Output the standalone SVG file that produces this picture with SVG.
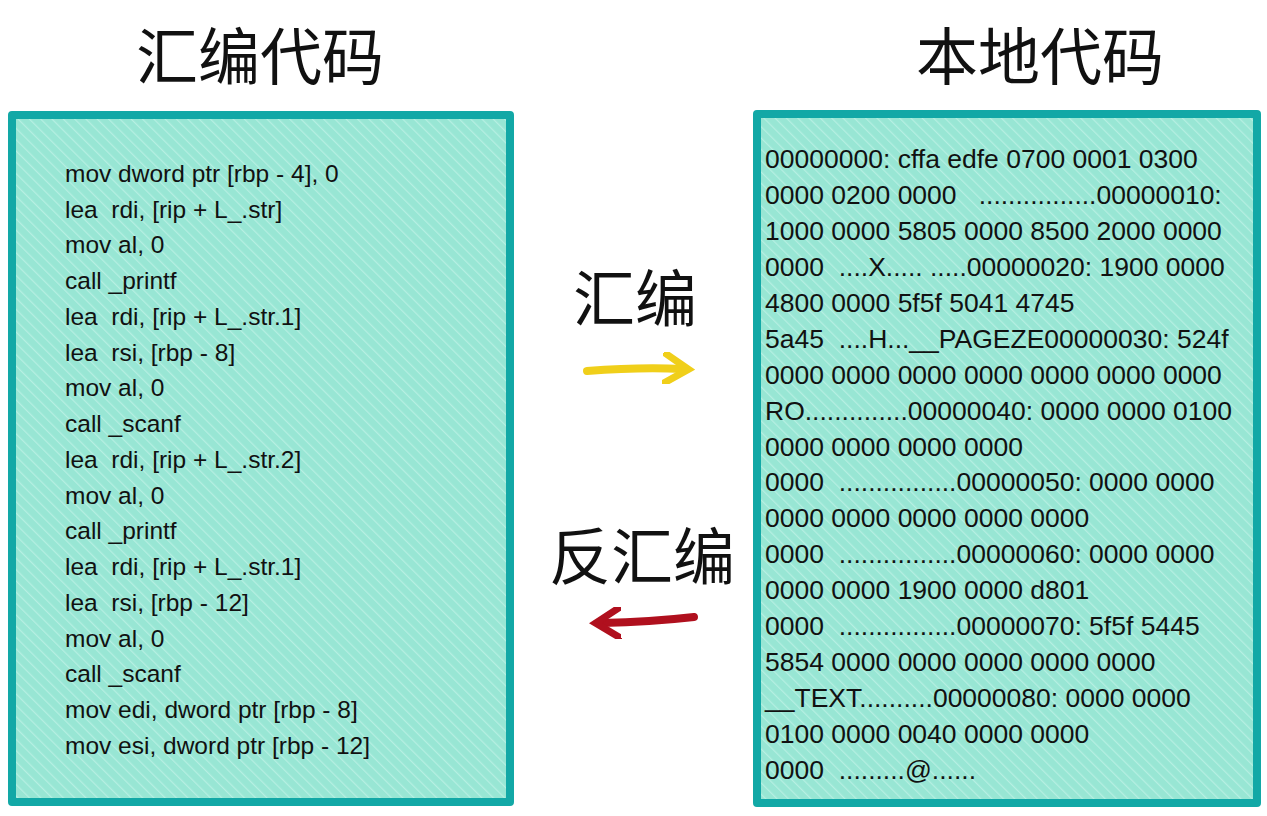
<svg xmlns="http://www.w3.org/2000/svg" width="1267" height="816" viewBox="0 0 1267 816">
<defs>
<pattern id="hatch" width="8" height="8" patternUnits="userSpaceOnUse" patternTransform="rotate(-45)">
<rect width="8" height="8" fill="#98e6d4"/>
<line x1="0" y1="0" x2="0" y2="8" stroke="#b6efe2" stroke-width="2.5"/>
</pattern>
<marker id="ay" viewBox="0 0 10 10" refX="6" refY="5" markerWidth="4" markerHeight="4" orient="auto"><path d="M0,0 L8,5 L0,10" fill="none" stroke="#f0cf1a" stroke-width="2.2" stroke-linecap="round"/></marker>
<marker id="ar" viewBox="0 0 10 10" refX="6" refY="5" markerWidth="4" markerHeight="4" orient="auto"><path d="M0,0 L8,5 L0,10" fill="none" stroke="#b0101e" stroke-width="2.2" stroke-linecap="round"/></marker>
</defs>
<style>
.box{fill:url(#hatch);stroke:#12a8a6;stroke-width:8;stroke-linejoin:round}
.code{font-family:"Liberation Sans",sans-serif;font-size:24.5px;fill:#111;white-space:pre}
.hex{font-family:"Liberation Sans",sans-serif;font-size:26.5px;fill:#111;white-space:pre}
.title{font-family:"Noto Sans CJK SC",sans-serif;font-size:62px;fill:#111}
</style>
<text class="title" x="260" y="80" text-anchor="middle">汇编代码</text>
<text class="title" x="1040" y="80" text-anchor="middle">本地代码</text>
<g id="asm">
<rect class="box" x="12" y="115" width="498" height="687"/>
<text class="code" x="65" y="182">mov dword ptr [rbp - 4], 0</text>
<text class="code" x="65" y="218">lea  rdi, [rip + L_.str]</text>
<text class="code" x="65" y="253">mov al, 0</text>
<text class="code" x="65" y="289">call _printf</text>
<text class="code" x="65" y="325">lea  rdi, [rip + L_.str.1]</text>
<text class="code" x="65" y="361">lea  rsi, [rbp - 8]</text>
<text class="code" x="65" y="396">mov al, 0</text>
<text class="code" x="65" y="432">call _scanf</text>
<text class="code" x="65" y="468">lea  rdi, [rip + L_.str.2]</text>
<text class="code" x="65" y="504">mov al, 0</text>
<text class="code" x="65" y="539">call _printf</text>
<text class="code" x="65" y="575">lea  rdi, [rip + L_.str.1]</text>
<text class="code" x="65" y="611">lea  rsi, [rbp - 12]</text>
<text class="code" x="65" y="647">mov al, 0</text>
<text class="code" x="65" y="682">call _scanf</text>
<text class="code" x="65" y="718">mov edi, dword ptr [rbp - 8]</text>
<text class="code" x="65" y="754">mov esi, dword ptr [rbp - 12]</text>
</g>
<g id="native">
<rect class="box" x="757" y="114" width="500" height="689"/>
<text class="hex" x="765" y="168">00000000: cffa edfe 0700 0001 0300</text>
<text class="hex" x="765" y="204">0000 0200 0000   ................00000010:</text>
<text class="hex" x="765" y="240">1000 0000 5805 0000 8500 2000 0000</text>
<text class="hex" x="765" y="276">0000  ....X..... .....00000020: 1900 0000</text>
<text class="hex" x="765" y="312">4800 0000 5f5f 5041 4745</text>
<text class="hex" x="765" y="348">5a45  ....H...__PAGEZE00000030: 524f</text>
<text class="hex" x="765" y="384">0000 0000 0000 0000 0000 0000 0000</text>
<text class="hex" x="765" y="420">RO..............00000040: 0000 0000 0100</text>
<text class="hex" x="765" y="456">0000 0000 0000 0000</text>
<text class="hex" x="765" y="491">0000  ................00000050: 0000 0000</text>
<text class="hex" x="765" y="527">0000 0000 0000 0000 0000</text>
<text class="hex" x="765" y="563">0000  ................00000060: 0000 0000</text>
<text class="hex" x="765" y="599">0000 0000 1900 0000 d801</text>
<text class="hex" x="765" y="635">0000  ................00000070: 5f5f 5445</text>
<text class="hex" x="765" y="671">5854 0000 0000 0000 0000 0000</text>
<text class="hex" x="765" y="707">__TEXT..........00000080: 0000 0000</text>
<text class="hex" x="765" y="743">0100 0000 0040 0000 0000</text>
<text class="hex" x="765" y="779">0000  .........@......</text>
</g>
<g id="connectors">
<text class="title" x="635" y="322" text-anchor="middle">汇编</text>
<path d="M587,371 Q640,367 682,369" fill="none" stroke="#f0cf1a" stroke-width="8" stroke-linecap="round" marker-end="url(#ay)"/>
<text class="title" x="642" y="580" text-anchor="middle">反汇编</text>
<path d="M694,617 Q650,622 602,623" fill="none" stroke="#b0101e" stroke-width="8" stroke-linecap="round" marker-end="url(#ar)"/>
</g>
</svg>
